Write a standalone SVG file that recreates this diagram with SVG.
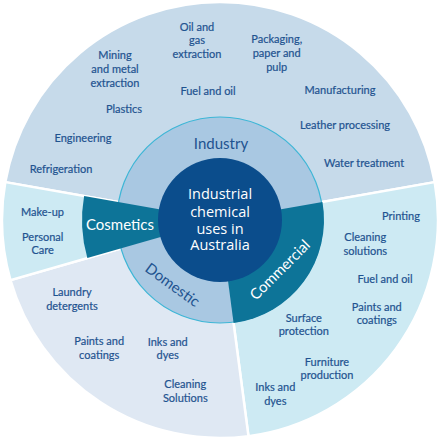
<svg xmlns="http://www.w3.org/2000/svg" width="440" height="440" viewBox="0 0 440 440">
<style>
.seg{stroke:#ffffff;stroke-width:2.5;stroke-linejoin:miter}
.ind{fill:#c6daea}
.com{fill:#cdeaf3}
.dom{fill:#dfe8f3}
.cos{fill:#cdeaf3}
.teal{fill:#0d7498}
.lbl{font-family:Lato,"Open Sans",sans-serif;font-size:11px;fill:#1f5390;stroke:#1f5390;stroke-width:0.2;text-anchor:middle}
.mid{font-family:Lato,"Open Sans",sans-serif;font-size:15px;text-anchor:middle}
.dk{fill:#1f5390}
.wt{fill:#ffffff}
.ctr{font-family:"Open Sans",Lato,sans-serif;font-size:14.5px;fill:#ffffff;text-anchor:middle}
</style>
<g id="outer-ring">
<path id="industry-outer" class="seg ind" d="M220 220 L5.31 182.14 A218 218 0 0 1 434.69 182.14 Z"/>
<path id="commercial-outer" class="seg com" d="M220 220 L434.69 182.14 A218 218 0 0 1 248.46 436.13 Z"/>
<path id="domestic-outer" class="seg dom" d="M220 220 L248.46 436.13 A218 218 0 0 1 10.45 280.09 Z"/>
<path id="cosmetics-outer" class="seg cos" d="M220 220 L10.45 280.09 A218 218 0 0 1 5.31 182.14 Z"/>
</g>
<g id="middle-ring">
<circle id="ring-light" cx="220" cy="220" r="103" fill="#a9c8e2" stroke="#3db6d6" stroke-width="1.2"/>
</g>
<g id="industry">
<text class="mid dk" x="221" y="149">Industry</text>
</g>
<g id="commercial">
<path class="teal" d="M220 220 L322.42 201.94 A104 104 0 0 1 233.58 323.11 Z"/>
<text class="mid wt" transform="translate(280 270) rotate(-45)" x="0" y="5">Commercial</text>
</g>
<g id="cosmetics">
<path class="teal" d="M220 220 L87.35 258.04 A138 138 0 0 1 84.10 196.04 Z"/>
<text class="mid wt" x="120" y="230">Cosmetics</text>
</g>
<g id="domestic">
<text class="mid dk" transform="translate(172.5 285) rotate(36)" x="0" y="5">Domestic</text>
</g>
<g id="center">
<circle cx="220" cy="220" r="62" fill="#0b4d8c"/>
<text class="ctr" x="220" y="199.3">Industrial</text>
<text class="ctr" x="220" y="216.7">chemical</text>
<text class="ctr" x="220" y="233.5">uses in</text>
<text class="ctr" x="220" y="250.3">Australia</text>
</g>
<g id="industry-labels">
<text class="lbl" x="197" y="30.5">Oil and</text>
<text class="lbl" x="197" y="44">gas</text>
<text class="lbl" x="197" y="57.5">extraction</text>
<text class="lbl" x="115" y="59.3">Mining</text>
<text class="lbl" x="115" y="73.3">and metal</text>
<text class="lbl" x="115" y="87.3">extraction</text>
<text class="lbl" x="208" y="95">Fuel and oil</text>
<text class="lbl" x="124" y="113.3">Plastics</text>
<text class="lbl" x="83" y="141.7">Engineering</text>
<text class="lbl" x="61" y="172.7">Refrigeration</text>
<text class="lbl" x="276.7" y="42.7">Packaging,</text>
<text class="lbl" x="276.7" y="56.7">paper and</text>
<text class="lbl" x="276.7" y="70.7">pulp</text>
<text class="lbl" x="340" y="94.3">Manufacturing</text>
<text class="lbl" x="345" y="129">Leather processing</text>
<text class="lbl" x="364" y="167.3">Water treatment</text>
</g>
<g id="cosmetics-labels">
<text class="lbl" x="42.5" y="216">Make-up</text>
<text class="lbl" x="42.7" y="240.7">Personal</text>
<text class="lbl" x="42.7" y="254.3">Care</text>
</g>
<g id="domestic-labels">
<text class="lbl" x="72" y="296">Laundry</text>
<text class="lbl" x="72" y="310">detergents</text>
<text class="lbl" x="99.2" y="345">Paints and</text>
<text class="lbl" x="99.2" y="359">coatings</text>
<text class="lbl" x="167.7" y="345.7">Inks and</text>
<text class="lbl" x="167.7" y="359.3">dyes</text>
<text class="lbl" x="185.3" y="388.3">Cleaning</text>
<text class="lbl" x="185.3" y="402">Solutions</text>
</g>
<g id="commercial-labels">
<text class="lbl" x="401" y="219.5">Printing</text>
<text class="lbl" x="365.3" y="240.7">Cleaning</text>
<text class="lbl" x="365.3" y="255">solutions</text>
<text class="lbl" x="385" y="282.7">Fuel and oil</text>
<text class="lbl" x="376.8" y="310.7">Paints and</text>
<text class="lbl" x="376.8" y="324.3">coatings</text>
<text class="lbl" x="303.8" y="321.7">Surface</text>
<text class="lbl" x="303.8" y="335">protection</text>
<text class="lbl" x="327" y="366">Furniture</text>
<text class="lbl" x="327" y="379.3">production</text>
<text class="lbl" x="275.3" y="391">Inks and</text>
<text class="lbl" x="275.3" y="405">dyes</text>
</g>
</svg>
